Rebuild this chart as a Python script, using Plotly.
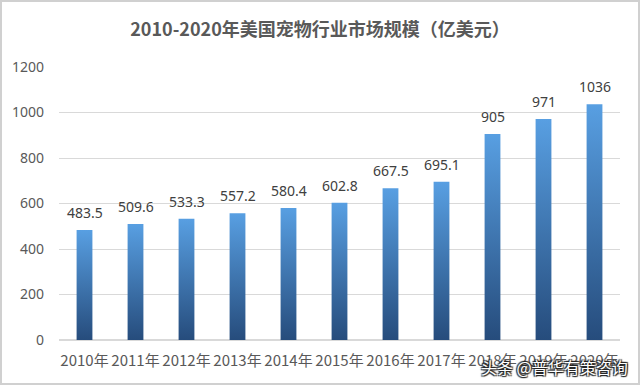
import plotly.graph_objects as go

years = ["2010年", "2011年", "2012年", "2013年", "2014年", "2015年",
         "2016年", "2017年", "2018年", "2019年", "2020年"]
values = [483.5, 509.6, 533.3, 557.2, 580.4, 602.8, 667.5, 695.1, 905, 971, 1036]
labels = ["483.5", "509.6", "533.3", "557.2", "580.4", "602.8",
          "667.5", "695.1", "905", "971", "1036"]

half_w = 0.155
fig = go.Figure()
for i, v in enumerate(values):
    fig.add_trace(go.Scatter(
        x=[i - half_w, i + half_w, i + half_w, i - half_w, i - half_w],
        y=[0, 0, v, v, 0],
        mode="lines", line=dict(width=0),
        fill="toself",
        fillgradient=dict(type="vertical",
                          colorscale=[[0, "#264c7c"], [1, "#589fe2"]]),
        hoverinfo="skip", showlegend=False,
    ))

for i, (v, t) in enumerate(zip(values, labels)):
    fig.add_annotation(
        x=i, y=v, text=t, showarrow=False, xanchor="center", yanchor="bottom",
        yshift=6,
        font=dict(family="Noto Sans, DejaVu Sans, sans-serif", size=14, color="#404040"),
    )

fig.add_annotation(
    text="头条 @普华有策咨询", xref="paper", yref="paper", x=1 + 10/561, y=-27/273,
    xanchor="right", yanchor="middle", showarrow=False,
    font=dict(family="Noto Sans CJK SC", size=16, color="white",
              shadow="1px 1px 1px #222, -1px -1px 1px #222, 1px -1px 1px #222, -1px 1px 1px #222"),
)

fig.update_layout(
    width=640, height=385,
    margin=dict(l=59, r=20, t=67, b=45),
    paper_bgcolor="white", plot_bgcolor="white",
    title=dict(text="<b>2010-2020年美国宠物行业市场规模（亿美元）</b>",
               x=0.5, xref="container", xanchor="center", y=1 - 30/385, yref="container", yanchor="middle",
               font=dict(family="Noto Sans CJK SC", size=18, color="#595959")),
    xaxis=dict(range=[-0.5, len(values) - 0.5], tickmode="array",
               tickvals=list(range(len(values))), ticktext=years,
               showgrid=False, zeroline=False, showline=False, ticks="",
               ticklabelstandoff=10,
               tickfont=dict(family="Noto Sans CJK SC", size=15, color="#595959")),
    yaxis=dict(range=[0, 1200], tickvals=[0, 200, 400, 600, 800, 1000, 1200],
               showgrid=True, gridcolor="#d9d9d9", gridwidth=1,
               zeroline=True, zerolinecolor="#d9d9d9", showline=False, ticks="",
               ticklabelstandoff=14,
               tickfont=dict(family="Noto Sans, DejaVu Sans, sans-serif", size=14, color="#595959")),
    shapes=[dict(type="rect", xref="paper", yref="paper",
                 x0=-59/561, x1=1 + 20/561, y0=-45/273, y1=1 + 67/273,
                 line=dict(color="#d0d0d0", width=4), fillcolor="rgba(0,0,0,0)", layer="below")],
)

fig.write_html("out.html", config={"displayModeBar": False},
               post_script="document.body.style.margin='0';document.body.style.overflow='hidden';")
